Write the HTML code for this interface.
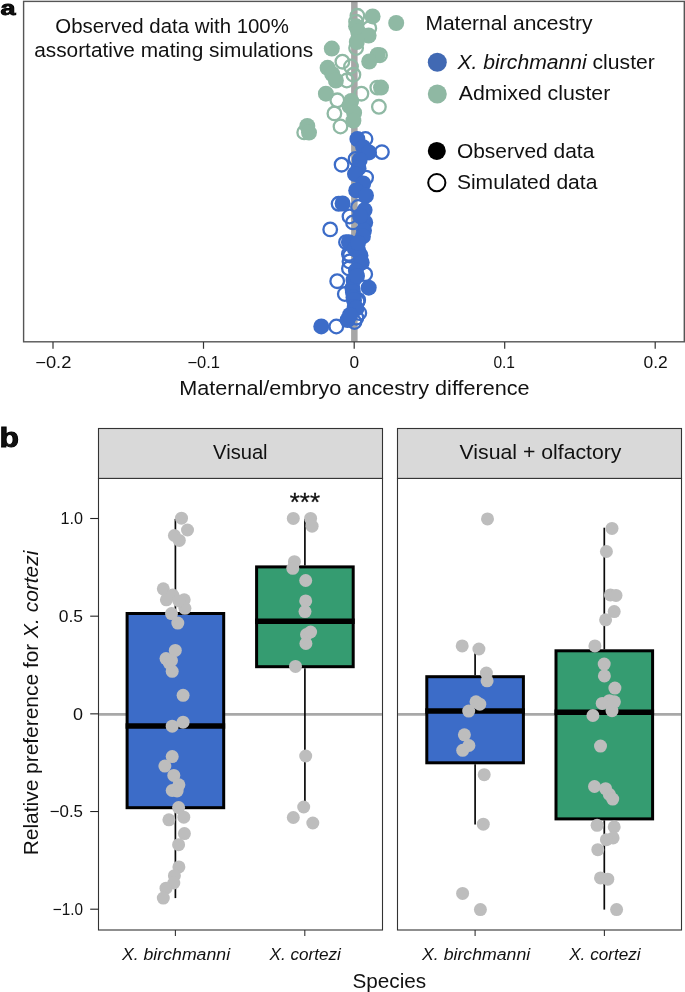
<!DOCTYPE html>
<html><head><meta charset="utf-8"><title>Figure</title>
<style>
html,body{margin:0;padding:0;background:#fff;}
svg{display:block;font-family:"Liberation Sans",sans-serif;fill:#111;}
</style></head><body>
<svg width="685" height="992" viewBox="0 0 685 992">
<rect x="0" y="0" width="685" height="992" fill="#fff"/>
<rect x="351.1" y="2" width="6.5" height="340" fill="#a6a6a6"/>
<rect x="23.6" y="1.4" width="660.7" height="340.4" fill="none" stroke="#555" stroke-width="1.4"/>
<line x1="53" y1="342" x2="53" y2="348.8" stroke="#333" stroke-width="1.2"/>
<line x1="203.5" y1="342" x2="203.5" y2="348.8" stroke="#333" stroke-width="1.2"/>
<line x1="354.2" y1="342" x2="354.2" y2="348.8" stroke="#333" stroke-width="1.2"/>
<line x1="504.7" y1="342" x2="504.7" y2="348.8" stroke="#333" stroke-width="1.2"/>
<line x1="655.2" y1="342" x2="655.2" y2="348.8" stroke="#333" stroke-width="1.2"/>
<circle cx="357.4" cy="15.8" r="6.8" fill="none" stroke="#8fb9a4" stroke-width="2.3"/>
<circle cx="356.1" cy="21.7" r="6.8" fill="none" stroke="#8fb9a4" stroke-width="2.3"/>
<circle cx="369.3" cy="28.2" r="6.8" fill="none" stroke="#8fb9a4" stroke-width="2.3"/>
<circle cx="356.1" cy="48" r="6.8" fill="none" stroke="#8fb9a4" stroke-width="2.3"/>
<circle cx="342.4" cy="61.7" r="6.8" fill="none" stroke="#8fb9a4" stroke-width="2.3"/>
<circle cx="351" cy="66.5" r="6.8" fill="none" stroke="#8fb9a4" stroke-width="2.3"/>
<circle cx="353.4" cy="74.7" r="6.8" fill="none" stroke="#8fb9a4" stroke-width="2.3"/>
<circle cx="346.8" cy="80.5" r="6.8" fill="none" stroke="#8fb9a4" stroke-width="2.3"/>
<circle cx="377.3" cy="87.6" r="6.8" fill="none" stroke="#8fb9a4" stroke-width="2.3"/>
<circle cx="361.4" cy="93.7" r="6.8" fill="none" stroke="#8fb9a4" stroke-width="2.3"/>
<circle cx="337.3" cy="100.3" r="6.8" fill="none" stroke="#8fb9a4" stroke-width="2.3"/>
<circle cx="378.9" cy="106.8" r="6.8" fill="none" stroke="#8fb9a4" stroke-width="2.3"/>
<circle cx="334.4" cy="113.4" r="6.8" fill="none" stroke="#8fb9a4" stroke-width="2.3"/>
<circle cx="340.5" cy="126.5" r="6.8" fill="none" stroke="#8fb9a4" stroke-width="2.3"/>
<circle cx="304.2" cy="132.4" r="6.8" fill="none" stroke="#8fb9a4" stroke-width="2.3"/>
<circle cx="380" cy="55.2" r="6.8" fill="none" stroke="#8fb9a4" stroke-width="2.3"/>
<circle cx="372.6" cy="16.4" r="8" fill="#8fb9a4"/>
<circle cx="396.2" cy="23" r="8" fill="#8fb9a4"/>
<circle cx="356.1" cy="26.3" r="8" fill="#8fb9a4"/>
<circle cx="358.1" cy="31.5" r="8" fill="#8fb9a4"/>
<circle cx="368.6" cy="35.5" r="8" fill="#8fb9a4"/>
<circle cx="356.8" cy="42" r="8" fill="#8fb9a4"/>
<circle cx="331.8" cy="48.6" r="8" fill="#8fb9a4"/>
<circle cx="377.6" cy="54.9" r="8" fill="#8fb9a4"/>
<circle cx="369.2" cy="61.5" r="8" fill="#8fb9a4"/>
<circle cx="327.6" cy="67.8" r="8" fill="#8fb9a4"/>
<circle cx="332.2" cy="74" r="8" fill="#8fb9a4"/>
<circle cx="335.9" cy="80.5" r="8" fill="#8fb9a4"/>
<circle cx="381" cy="87.6" r="8" fill="#8fb9a4"/>
<circle cx="325.9" cy="93.7" r="8" fill="#8fb9a4"/>
<circle cx="351.2" cy="101" r="8" fill="#8fb9a4"/>
<circle cx="349.5" cy="106" r="8" fill="#8fb9a4"/>
<circle cx="354.1" cy="112.7" r="8" fill="#8fb9a4"/>
<circle cx="353.4" cy="120.7" r="8" fill="#8fb9a4"/>
<circle cx="307.3" cy="126" r="8" fill="#8fb9a4"/>
<circle cx="309" cy="132.6" r="8" fill="#8fb9a4"/>
<circle cx="365.5" cy="139" r="6.8" fill="none" stroke="#3c6cc8" stroke-width="2.3"/>
<circle cx="381.9" cy="152.1" r="6.8" fill="none" stroke="#3c6cc8" stroke-width="2.3"/>
<circle cx="341.6" cy="164.7" r="6.8" fill="none" stroke="#3c6cc8" stroke-width="2.3"/>
<circle cx="355.6" cy="158.9" r="6.8" fill="none" stroke="#3c6cc8" stroke-width="2.3"/>
<circle cx="366.1" cy="177.6" r="6.8" fill="none" stroke="#3c6cc8" stroke-width="2.3"/>
<circle cx="338.6" cy="203.8" r="6.8" fill="none" stroke="#3c6cc8" stroke-width="2.3"/>
<circle cx="358" cy="207" r="6.8" fill="none" stroke="#3c6cc8" stroke-width="2.3"/>
<circle cx="349.5" cy="216.5" r="6.8" fill="none" stroke="#3c6cc8" stroke-width="2.3"/>
<circle cx="353" cy="222.4" r="6.8" fill="none" stroke="#3c6cc8" stroke-width="2.3"/>
<circle cx="330.2" cy="229.4" r="6.8" fill="none" stroke="#3c6cc8" stroke-width="2.3"/>
<circle cx="346" cy="242.2" r="6.8" fill="none" stroke="#3c6cc8" stroke-width="2.3"/>
<circle cx="348.9" cy="253.9" r="6.8" fill="none" stroke="#3c6cc8" stroke-width="2.3"/>
<circle cx="350" cy="255.5" r="6.8" fill="none" stroke="#3c6cc8" stroke-width="2.3"/>
<circle cx="349.5" cy="261.4" r="6.8" fill="none" stroke="#3c6cc8" stroke-width="2.3"/>
<circle cx="348.9" cy="268.4" r="6.8" fill="none" stroke="#3c6cc8" stroke-width="2.3"/>
<circle cx="365.2" cy="274.2" r="6.8" fill="none" stroke="#3c6cc8" stroke-width="2.3"/>
<circle cx="337.2" cy="281.2" r="6.8" fill="none" stroke="#3c6cc8" stroke-width="2.3"/>
<circle cx="344.8" cy="294" r="6.8" fill="none" stroke="#3c6cc8" stroke-width="2.3"/>
<circle cx="358.2" cy="299.9" r="6.8" fill="none" stroke="#3c6cc8" stroke-width="2.3"/>
<circle cx="357.6" cy="301.4" r="6.8" fill="none" stroke="#3c6cc8" stroke-width="2.3"/>
<circle cx="359.3" cy="313" r="6.8" fill="none" stroke="#3c6cc8" stroke-width="2.3"/>
<circle cx="356.4" cy="317.7" r="6.8" fill="none" stroke="#3c6cc8" stroke-width="2.3"/>
<circle cx="354.5" cy="322" r="6.8" fill="none" stroke="#3c6cc8" stroke-width="2.3"/>
<circle cx="336.3" cy="326.5" r="6.8" fill="none" stroke="#3c6cc8" stroke-width="2.3"/>
<circle cx="357.4" cy="139" r="8" fill="#3c6cc8"/>
<circle cx="363.2" cy="147.2" r="8" fill="#3c6cc8"/>
<circle cx="369" cy="152.4" r="8" fill="#3c6cc8"/>
<circle cx="359.7" cy="160" r="8" fill="#3c6cc8"/>
<circle cx="358.5" cy="168.2" r="8" fill="#3c6cc8"/>
<circle cx="355" cy="174" r="8" fill="#3c6cc8"/>
<circle cx="363.2" cy="183.4" r="8" fill="#3c6cc8"/>
<circle cx="356.2" cy="190.4" r="8" fill="#3c6cc8"/>
<circle cx="366" cy="195.5" r="8" fill="#3c6cc8"/>
<circle cx="342.6" cy="203.5" r="8" fill="#3c6cc8"/>
<circle cx="364.6" cy="210.1" r="8" fill="#3c6cc8"/>
<circle cx="365.2" cy="222.4" r="8" fill="#3c6cc8"/>
<circle cx="364" cy="230.5" r="8" fill="#3c6cc8"/>
<circle cx="362.9" cy="236.4" r="8" fill="#3c6cc8"/>
<circle cx="348.9" cy="242.2" r="8" fill="#3c6cc8"/>
<circle cx="358.2" cy="250.4" r="8" fill="#3c6cc8"/>
<circle cx="354.7" cy="248.5" r="8" fill="#3c6cc8"/>
<circle cx="360.5" cy="255.5" r="8" fill="#3c6cc8"/>
<circle cx="361.7" cy="262.5" r="8" fill="#3c6cc8"/>
<circle cx="355.9" cy="270.7" r="8" fill="#3c6cc8"/>
<circle cx="353.5" cy="280" r="8" fill="#3c6cc8"/>
<circle cx="368.7" cy="287.7" r="8" fill="#3c6cc8"/>
<circle cx="352.4" cy="288.2" r="8" fill="#3c6cc8"/>
<circle cx="352.9" cy="292" r="8" fill="#3c6cc8"/>
<circle cx="353.5" cy="297.6" r="8" fill="#3c6cc8"/>
<circle cx="354" cy="300.2" r="8" fill="#3c6cc8"/>
<circle cx="354.7" cy="306.9" r="8" fill="#3c6cc8"/>
<circle cx="356.4" cy="308.4" r="8" fill="#3c6cc8"/>
<circle cx="347.6" cy="320" r="8" fill="#3c6cc8"/>
<circle cx="350" cy="315" r="8" fill="#3c6cc8"/>
<circle cx="321.3" cy="326.4" r="8" fill="#3c6cc8"/>
<circle cx="360" cy="216" r="8" fill="#3c6cc8"/>
<circle cx="358" cy="243" r="8" fill="#3c6cc8"/>
<circle cx="357" cy="276" r="8" fill="#3c6cc8"/>
<text x="55.3" y="33.3" font-size="19.3" text-anchor="start" textLength="233.5" lengthAdjust="spacingAndGlyphs" >Observed data with 100%</text>
<text x="34.2" y="56.6" font-size="19.3" text-anchor="start" textLength="279" lengthAdjust="spacingAndGlyphs" >assortative mating simulations</text>
<text x="35.199999999999996" y="368" font-size="16.3" text-anchor="start" textLength="36.2" lengthAdjust="spacingAndGlyphs" >−0.2</text>
<text x="187.39999999999998" y="368" font-size="16.3" text-anchor="start" textLength="32.6" lengthAdjust="spacingAndGlyphs" >−0.1</text>
<text x="349.4" y="368" font-size="16.3" text-anchor="start" textLength="9.6" lengthAdjust="spacingAndGlyphs" >0</text>
<text x="493.4" y="368" font-size="16.3" text-anchor="start" textLength="21.6" lengthAdjust="spacingAndGlyphs" >0.1</text>
<text x="643.5" y="368" font-size="16.3" text-anchor="start" textLength="24.2" lengthAdjust="spacingAndGlyphs" >0.2</text>
<text x="179.2" y="395.1" font-size="19.3" text-anchor="start" textLength="350.4" lengthAdjust="spacingAndGlyphs" >Maternal/embryo ancestry difference</text>
<text x="425.4" y="30.2" font-size="19.3" text-anchor="start" textLength="167" lengthAdjust="spacingAndGlyphs" >Maternal ancestry</text>
<circle cx="437.3" cy="62.3" r="9.5" fill="#4169b3"/>
<text x="457.5" y="68.9" font-size="19.3" textLength="197.3" lengthAdjust="spacingAndGlyphs"><tspan font-style="italic">X. birchmanni</tspan> cluster</text>
<circle cx="437.3" cy="94" r="9.5" fill="#8fb8a3"/>
<text x="458.7" y="99.8" font-size="19.3" text-anchor="start" textLength="151.6" lengthAdjust="spacingAndGlyphs" >Admixed cluster</text>
<circle cx="436.8" cy="150.9" r="9" fill="#000"/>
<text x="456.9" y="157.5" font-size="19.3" text-anchor="start" textLength="137.4" lengthAdjust="spacingAndGlyphs" >Observed data</text>
<circle cx="436.8" cy="182.7" r="8.6" fill="#fff" stroke="#000" stroke-width="2"/>
<text x="456.9" y="188.5" font-size="19.3" text-anchor="start" textLength="140.5" lengthAdjust="spacingAndGlyphs" >Simulated data</text>
<text x="0.6" y="14.8" font-size="20.5" font-weight="bold" textLength="15" lengthAdjust="spacingAndGlyphs" stroke="#000" stroke-width="0.9">a</text>
<text x="-0.5" y="446.6" font-size="27" font-weight="bold" textLength="19.5" lengthAdjust="spacingAndGlyphs" stroke="#000" stroke-width="0.9">b</text>
<rect x="98.5" y="478.4" width="284.0" height="451.6" fill="#fff" stroke="#333" stroke-width="1.1"/>
<rect x="98.5" y="428.5" width="284.0" height="49.9" fill="#d9d9d9" stroke="#333" stroke-width="1.1"/>
<rect x="397.5" y="478.4" width="284.0" height="451.6" fill="#fff" stroke="#333" stroke-width="1.1"/>
<rect x="397.5" y="428.5" width="284.0" height="49.9" fill="#d9d9d9" stroke="#333" stroke-width="1.1"/>
<line x1="99" y1="714.35" x2="382" y2="714.35" stroke="#a8a8a8" stroke-width="2.7"/>
<line x1="398" y1="714.35" x2="681" y2="714.35" stroke="#a8a8a8" stroke-width="2.7"/>
<line x1="90.2" y1="518.5" x2="98.5" y2="518.5" stroke="#222" stroke-width="1.1"/>
<text x="60.5" y="524.4" font-size="16.6" text-anchor="start" textLength="22.5" lengthAdjust="spacingAndGlyphs" >1.0</text>
<line x1="90.2" y1="616.1750000000001" x2="98.5" y2="616.1750000000001" stroke="#222" stroke-width="1.1"/>
<text x="58.7" y="622.075" font-size="16.6" text-anchor="start" textLength="24.3" lengthAdjust="spacingAndGlyphs" >0.5</text>
<line x1="90.2" y1="713.85" x2="98.5" y2="713.85" stroke="#222" stroke-width="1.1"/>
<text x="73" y="719.75" font-size="16.6" text-anchor="start" textLength="10" lengthAdjust="spacingAndGlyphs" >0</text>
<line x1="90.2" y1="811.525" x2="98.5" y2="811.525" stroke="#222" stroke-width="1.1"/>
<text x="49.7" y="817.425" font-size="16.6" text-anchor="start" textLength="33.3" lengthAdjust="spacingAndGlyphs" >−0.5</text>
<line x1="90.2" y1="909.2" x2="98.5" y2="909.2" stroke="#222" stroke-width="1.1"/>
<text x="52.8" y="915.1" font-size="16.6" text-anchor="start" textLength="30.2" lengthAdjust="spacingAndGlyphs" >−1.0</text>
<line x1="175.4" y1="518.9" x2="175.4" y2="612.0" stroke="#0a0a0a" stroke-width="1.7"/>
<line x1="175.4" y1="809.2" x2="175.4" y2="898.1" stroke="#0a0a0a" stroke-width="1.7"/>
<rect x="127.10000000000001" y="613.5" width="96.6" height="194.20000000000005" fill="#3c6cc8" stroke="#000" stroke-width="3"/>
<line x1="125.60000000000001" y1="726.0" x2="225.2" y2="726.0" stroke="#000" stroke-width="5.6"/>
<line x1="304.9" y1="519.0" x2="304.9" y2="565.4" stroke="#0a0a0a" stroke-width="1.7"/>
<line x1="304.9" y1="668.2" x2="304.9" y2="804.5" stroke="#0a0a0a" stroke-width="1.7"/>
<rect x="256.59999999999997" y="566.9" width="96.6" height="99.80000000000007" fill="#359c71" stroke="#000" stroke-width="3"/>
<line x1="255.09999999999997" y1="621.3" x2="354.7" y2="621.3" stroke="#000" stroke-width="5.6"/>
<line x1="475.1" y1="653.0" x2="475.1" y2="675.2" stroke="#0a0a0a" stroke-width="1.7"/>
<line x1="475.1" y1="764.3" x2="475.1" y2="824.6" stroke="#0a0a0a" stroke-width="1.7"/>
<rect x="426.8" y="676.7" width="96.6" height="86.09999999999991" fill="#3c6cc8" stroke="#000" stroke-width="3"/>
<line x1="425.3" y1="711.0" x2="524.9" y2="711.0" stroke="#000" stroke-width="5.6"/>
<line x1="604.3" y1="527.7" x2="604.3" y2="649.3" stroke="#0a0a0a" stroke-width="1.7"/>
<line x1="604.3" y1="820.4" x2="604.3" y2="909.6" stroke="#0a0a0a" stroke-width="1.7"/>
<rect x="556.0" y="650.8" width="96.6" height="168.10000000000002" fill="#359c71" stroke="#000" stroke-width="3"/>
<line x1="554.5" y1="712.2" x2="654.0999999999999" y2="712.2" stroke="#000" stroke-width="5.6"/>
<circle cx="181.5" cy="518.2" r="6.5" fill="#bdbdbd"/>
<circle cx="187.5" cy="530" r="6.5" fill="#bdbdbd"/>
<circle cx="174.4" cy="535.5" r="6.5" fill="#bdbdbd"/>
<circle cx="179.3" cy="540.4" r="6.5" fill="#bdbdbd"/>
<circle cx="163.3" cy="588.8" r="6.5" fill="#bdbdbd"/>
<circle cx="172.7" cy="595" r="6.5" fill="#bdbdbd"/>
<circle cx="166.4" cy="599.8" r="6.5" fill="#bdbdbd"/>
<circle cx="184.2" cy="599.8" r="6.5" fill="#bdbdbd"/>
<circle cx="184.9" cy="608.3" r="6.5" fill="#bdbdbd"/>
<circle cx="171.5" cy="613.6" r="6.5" fill="#bdbdbd"/>
<circle cx="177.8" cy="623.1" r="6.5" fill="#bdbdbd"/>
<circle cx="175.3" cy="650.4" r="6.5" fill="#bdbdbd"/>
<circle cx="166" cy="658.6" r="6.5" fill="#bdbdbd"/>
<circle cx="169.3" cy="663.1" r="6.5" fill="#bdbdbd"/>
<circle cx="172.2" cy="671.3" r="6.5" fill="#bdbdbd"/>
<circle cx="183.1" cy="695.3" r="6.5" fill="#bdbdbd"/>
<circle cx="183.1" cy="722.2" r="6.5" fill="#bdbdbd"/>
<circle cx="172.2" cy="726.2" r="6.5" fill="#bdbdbd"/>
<circle cx="172.2" cy="756.6" r="6.5" fill="#bdbdbd"/>
<circle cx="164.9" cy="766.1" r="6.5" fill="#bdbdbd"/>
<circle cx="173.8" cy="775.4" r="6.5" fill="#bdbdbd"/>
<circle cx="178.9" cy="784.8" r="6.5" fill="#bdbdbd"/>
<circle cx="172.2" cy="790.5" r="6.5" fill="#bdbdbd"/>
<circle cx="177.1" cy="791" r="6.5" fill="#bdbdbd"/>
<circle cx="178.6" cy="807.6" r="6.5" fill="#bdbdbd"/>
<circle cx="183.8" cy="817.2" r="6.5" fill="#bdbdbd"/>
<circle cx="168.9" cy="819.8" r="6.5" fill="#bdbdbd"/>
<circle cx="184.4" cy="833.6" r="6.5" fill="#bdbdbd"/>
<circle cx="178.6" cy="844.7" r="6.5" fill="#bdbdbd"/>
<circle cx="178.9" cy="866.9" r="6.5" fill="#bdbdbd"/>
<circle cx="174.4" cy="875.7" r="6.5" fill="#bdbdbd"/>
<circle cx="173.8" cy="883" r="6.5" fill="#bdbdbd"/>
<circle cx="166" cy="888.2" r="6.5" fill="#bdbdbd"/>
<circle cx="163.3" cy="898.1" r="6.5" fill="#bdbdbd"/>
<circle cx="178.9" cy="600.9" r="6.5" fill="#bdbdbd"/>
<circle cx="171.5" cy="660.5" r="6.5" fill="#bdbdbd"/>
<circle cx="306.5" cy="634.5" r="6.5" fill="#bdbdbd"/>
<circle cx="609.3" cy="700.7" r="6.5" fill="#bdbdbd"/>
<circle cx="293.3" cy="518.4" r="6.5" fill="#bdbdbd"/>
<circle cx="310.6" cy="518.4" r="6.5" fill="#bdbdbd"/>
<circle cx="312.1" cy="526.2" r="6.5" fill="#bdbdbd"/>
<circle cx="294.4" cy="561.7" r="6.5" fill="#bdbdbd"/>
<circle cx="292.8" cy="568.3" r="6.5" fill="#bdbdbd"/>
<circle cx="305.7" cy="580.5" r="6.5" fill="#bdbdbd"/>
<circle cx="305.7" cy="600.9" r="6.5" fill="#bdbdbd"/>
<circle cx="305" cy="611.6" r="6.5" fill="#bdbdbd"/>
<circle cx="310.6" cy="632" r="6.5" fill="#bdbdbd"/>
<circle cx="305.9" cy="643.5" r="6.5" fill="#bdbdbd"/>
<circle cx="295.5" cy="666.4" r="6.5" fill="#bdbdbd"/>
<circle cx="305.7" cy="756" r="6.5" fill="#bdbdbd"/>
<circle cx="303.7" cy="807" r="6.5" fill="#bdbdbd"/>
<circle cx="293.3" cy="817.5" r="6.5" fill="#bdbdbd"/>
<circle cx="312.8" cy="823" r="6.5" fill="#bdbdbd"/>
<circle cx="487.5" cy="518.9" r="6.5" fill="#bdbdbd"/>
<circle cx="462.2" cy="645.9" r="6.5" fill="#bdbdbd"/>
<circle cx="478.9" cy="649" r="6.5" fill="#bdbdbd"/>
<circle cx="486.4" cy="673" r="6.5" fill="#bdbdbd"/>
<circle cx="487.1" cy="680.8" r="6.5" fill="#bdbdbd"/>
<circle cx="476" cy="701.8" r="6.5" fill="#bdbdbd"/>
<circle cx="479.8" cy="704.2" r="6.5" fill="#bdbdbd"/>
<circle cx="468.7" cy="711.1" r="6.5" fill="#bdbdbd"/>
<circle cx="464.4" cy="734.8" r="6.5" fill="#bdbdbd"/>
<circle cx="468.9" cy="745.5" r="6.5" fill="#bdbdbd"/>
<circle cx="462.7" cy="750.3" r="6.5" fill="#bdbdbd"/>
<circle cx="484.2" cy="774.7" r="6.5" fill="#bdbdbd"/>
<circle cx="483.3" cy="824.2" r="6.5" fill="#bdbdbd"/>
<circle cx="462.6" cy="893.4" r="6.5" fill="#bdbdbd"/>
<circle cx="480.4" cy="909.6" r="6.5" fill="#bdbdbd"/>
<circle cx="612" cy="528.4" r="6.5" fill="#bdbdbd"/>
<circle cx="606.4" cy="551.5" r="6.5" fill="#bdbdbd"/>
<circle cx="610.4" cy="594.9" r="6.5" fill="#bdbdbd"/>
<circle cx="616" cy="595.4" r="6.5" fill="#bdbdbd"/>
<circle cx="614.2" cy="611.6" r="6.5" fill="#bdbdbd"/>
<circle cx="605.6" cy="619.8" r="6.5" fill="#bdbdbd"/>
<circle cx="594.9" cy="645.9" r="6.5" fill="#bdbdbd"/>
<circle cx="604.2" cy="664.1" r="6.5" fill="#bdbdbd"/>
<circle cx="604.4" cy="675.9" r="6.5" fill="#bdbdbd"/>
<circle cx="614.9" cy="688.1" r="6.5" fill="#bdbdbd"/>
<circle cx="602.2" cy="703.4" r="6.5" fill="#bdbdbd"/>
<circle cx="614.4" cy="701.8" r="6.5" fill="#bdbdbd"/>
<circle cx="612" cy="710.7" r="6.5" fill="#bdbdbd"/>
<circle cx="592.9" cy="715.5" r="6.5" fill="#bdbdbd"/>
<circle cx="600.5" cy="746.1" r="6.5" fill="#bdbdbd"/>
<circle cx="594.5" cy="786.5" r="6.5" fill="#bdbdbd"/>
<circle cx="605.6" cy="788.7" r="6.5" fill="#bdbdbd"/>
<circle cx="609.3" cy="794.3" r="6.5" fill="#bdbdbd"/>
<circle cx="612.7" cy="799.1" r="6.5" fill="#bdbdbd"/>
<circle cx="597.1" cy="825.3" r="6.5" fill="#bdbdbd"/>
<circle cx="614.2" cy="826.9" r="6.5" fill="#bdbdbd"/>
<circle cx="613.1" cy="837.9" r="6.5" fill="#bdbdbd"/>
<circle cx="606.4" cy="839.7" r="6.5" fill="#bdbdbd"/>
<circle cx="597.8" cy="849.7" r="6.5" fill="#bdbdbd"/>
<circle cx="600.5" cy="877.9" r="6.5" fill="#bdbdbd"/>
<circle cx="607.8" cy="879.2" r="6.5" fill="#bdbdbd"/>
<circle cx="616.6" cy="909.6" r="6.5" fill="#bdbdbd"/>
<line x1="175.4" y1="930" x2="175.4" y2="936" stroke="#333" stroke-width="1.1"/>
<text x="121.9" y="960" font-size="16.3" text-anchor="start" textLength="108.2" lengthAdjust="spacingAndGlyphs" font-style="italic">X. birchmanni</text>
<line x1="304.8" y1="930" x2="304.8" y2="936" stroke="#333" stroke-width="1.1"/>
<text x="269.5" y="960" font-size="16.3" text-anchor="start" textLength="71.4" lengthAdjust="spacingAndGlyphs" font-style="italic">X. cortezi</text>
<line x1="475.1" y1="930" x2="475.1" y2="936" stroke="#333" stroke-width="1.1"/>
<text x="422" y="960" font-size="16.3" text-anchor="start" textLength="108.2" lengthAdjust="spacingAndGlyphs" font-style="italic">X. birchmanni</text>
<line x1="604.4" y1="930" x2="604.4" y2="936" stroke="#333" stroke-width="1.1"/>
<text x="569.2" y="960" font-size="16.3" text-anchor="start" textLength="71.4" lengthAdjust="spacingAndGlyphs" font-style="italic">X. cortezi</text>
<text x="213.1" y="459.3" font-size="19.3" text-anchor="start" textLength="54.5" lengthAdjust="spacingAndGlyphs" >Visual</text>
<text x="459.5" y="459.3" font-size="19.3" text-anchor="start" textLength="162" lengthAdjust="spacingAndGlyphs" >Visual + olfactory</text>
<text x="304.9" y="510.8" font-size="26" text-anchor="middle" stroke="#111" stroke-width="0.3">***</text>
<text x="352.4" y="987.6" font-size="19.3" text-anchor="start" textLength="73.8" lengthAdjust="spacingAndGlyphs" >Species</text>
<text transform="translate(38.2,703) rotate(-90)" font-size="19.3" text-anchor="middle" textLength="304.6" lengthAdjust="spacingAndGlyphs">Relative preference for <tspan font-style="italic">X. cortezi</tspan></text>
</svg>
</body></html>
